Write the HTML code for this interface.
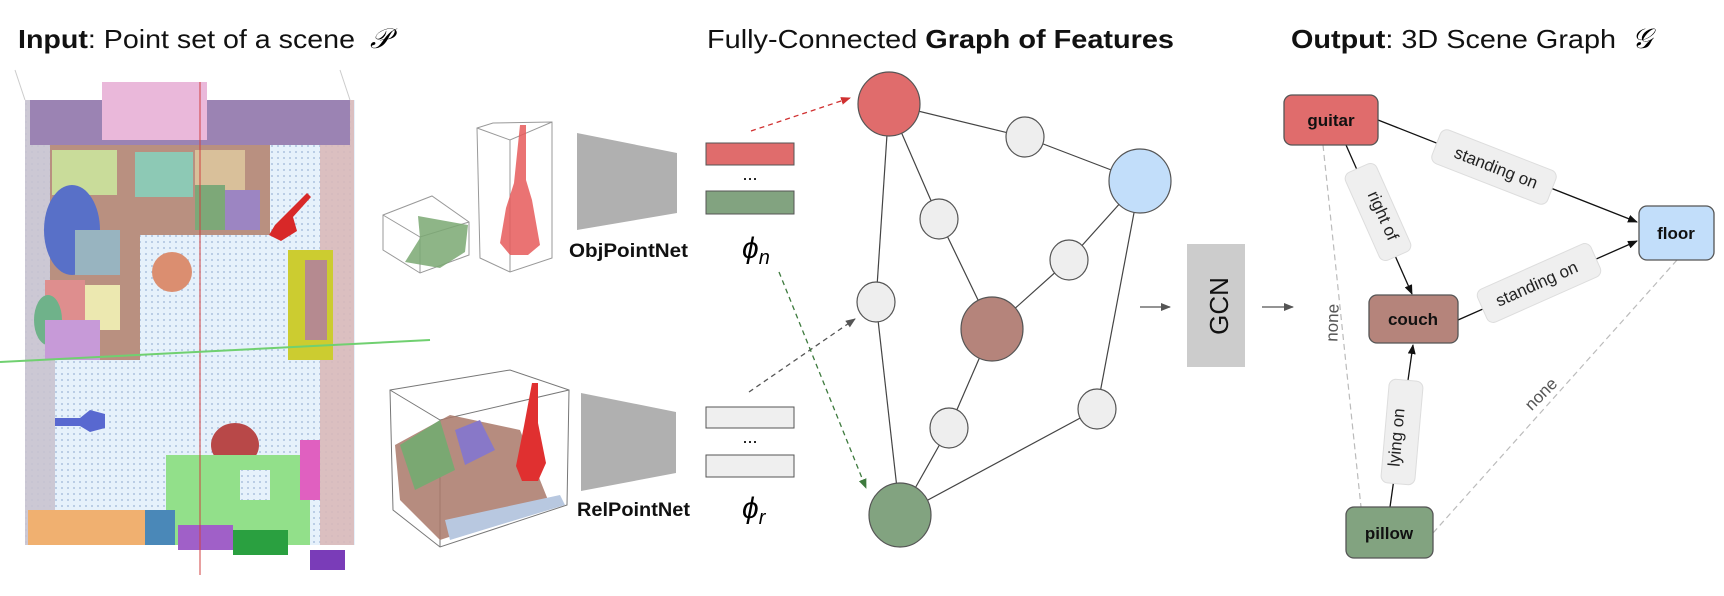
<!DOCTYPE html>
<html><head><meta charset="utf-8"><style>
html,body{margin:0;padding:0;background:#fff}
svg{display:block}
text{font-family:"Liberation Sans",sans-serif}
</style></head><body>
<svg width="1724" height="596" viewBox="0 0 1724 596" xmlns="http://www.w3.org/2000/svg">
<defs>
<marker id="ab" markerWidth="10" markerHeight="8" refX="9" refY="4" orient="auto" markerUnits="userSpaceOnUse"><path d="M0,0 L10,4 L0,8 z" fill="#111"/></marker>
<marker id="ag" markerWidth="10" markerHeight="8" refX="9" refY="4" orient="auto" markerUnits="userSpaceOnUse"><path d="M0,0 L10,4 L0,8 z" fill="#555"/></marker>
<marker id="ar" markerWidth="10" markerHeight="8" refX="9" refY="4" orient="auto" markerUnits="userSpaceOnUse"><path d="M0,0 L10,4 L0,8 z" fill="#d03030"/></marker>
<marker id="agr" markerWidth="10" markerHeight="8" refX="9" refY="4" orient="auto" markerUnits="userSpaceOnUse"><path d="M0,0 L10,4 L0,8 z" fill="#3d7a3d"/></marker>
<pattern id="dots" width="6" height="6" patternUnits="userSpaceOnUse"><rect width="6" height="6" fill="#e6f1fb"/><circle cx="2" cy="2" r="0.9" fill="#9bb4d6"/></pattern>
</defs>

<!-- titles -->
<text x="18" y="48" font-size="26" fill="#111" textLength="337" lengthAdjust="spacingAndGlyphs"><tspan font-weight="bold">Input</tspan>: Point set of a scene</text>
<text x="370" y="48" font-size="28" font-style="italic" font-family="Liberation Serif,serif">𝒫</text>
<text x="707" y="48" font-size="26" fill="#111" textLength="467" lengthAdjust="spacingAndGlyphs">Fully-Connected <tspan font-weight="bold">Graph of Features</tspan></text>
<text x="1291" y="48" font-size="26" fill="#111" textLength="325" lengthAdjust="spacingAndGlyphs"><tspan font-weight="bold">Output</tspan>: 3D Scene Graph</text>
<text x="1632" y="48" font-size="28" font-style="italic" font-family="Liberation Serif,serif">𝒢</text>

<!-- room point cloud -->
<g>
<rect x="25" y="100" width="330" height="445" fill="url(#dots)"/>
<rect x="25" y="100" width="30" height="445" fill="#c9c3cf" opacity="0.9"/>
<rect x="320" y="100" width="34" height="445" fill="#d9b9b9" opacity="0.9"/>
<rect x="30" y="100" width="320" height="45" fill="#9b83b3"/>
<rect x="102" y="82" width="105" height="58" fill="#eab8da"/>
<rect x="50" y="145" width="220" height="90" fill="#b99080"/>
<rect x="50" y="145" width="90" height="215" fill="#b99080"/>
<rect x="52" y="150" width="65" height="45" fill="#c9dc9a"/>
<rect x="135" y="152" width="58" height="45" fill="#8dc9b5"/>
<rect x="195" y="150" width="50" height="40" fill="#d9c09a"/>
<rect x="195" y="185" width="30" height="45" fill="#7da878"/>
<rect x="225" y="190" width="35" height="40" fill="#9c85c2"/>
<ellipse cx="72" cy="230" rx="28" ry="45" fill="#5870c8"/>
<rect x="75" y="230" width="45" height="45" fill="#98b4c0"/>
<rect x="45" y="280" width="40" height="45" fill="#de8e8e"/>
<rect x="85" y="285" width="35" height="45" fill="#ece8b0"/>
<ellipse cx="48" cy="320" rx="14" ry="25" fill="#6fb28a"/>
<rect x="45" y="320" width="55" height="40" fill="#c79ad8"/>
<circle cx="172" cy="272" r="20" fill="#db8e70"/>
<rect x="288" y="250" width="45" height="110" fill="#cccc30"/>
<rect x="305" y="260" width="22" height="80" fill="#b58a90"/>
<path d="M275 225 l12 -12 l20 -20 l4 4 l-18 20 l4 14 l-16 10 l-12 -6z" fill="#d82828"/>
<path d="M55 418 h25 l10 -8 l15 4 l0 14 l-15 4 l-10 -6 h-25z" fill="#5868d0"/>
<ellipse cx="235" cy="445" rx="24" ry="22" fill="#b84848"/>
<rect x="166" y="455" width="144" height="90" fill="#92e08a"/>
<rect x="240" y="470" width="30" height="30" fill="url(#dots)"/>
<rect x="300" y="440" width="20" height="60" fill="#e060c0"/>
<rect x="28" y="510" width="117" height="35" fill="#f0b070"/>
<rect x="145" y="510" width="30" height="35" fill="#4a88b8"/>
<rect x="178" y="525" width="55" height="25" fill="#a060c8"/>
<rect x="233" y="530" width="55" height="25" fill="#2aa040"/>
<rect x="310" y="550" width="35" height="20" fill="#7a3cb8"/>
<line x1="200" y1="82" x2="200" y2="575" stroke="#d04040" stroke-width="1"/>
<line x1="0" y1="362" x2="430" y2="340" stroke="#70d070" stroke-width="2"/>
<path d="M25 100 L15 70 M350 100 L340 70" stroke="#ccc" fill="none"/>
</g>

<!-- object boxes -->
<g fill="none" stroke="#999" stroke-width="1">
<path d="M383 215 L432 196 L469 222 L469 255 L420 273 L383 250 Z M383 215 L420 237 L469 222 M420 237 L420 273"/>
<path d="M493 123 L552 122 L552 258 L510 272 L480 258 L477 128 Z M477 128 L510 140 L552 122 M510 140 L510 272"/>
</g>
<path d="M418 216 L468 225 L465 252 L440 268 L405 262 L420 238 Z" fill="#7aa872" opacity="0.85"/>
<path d="M520 125 l6 0 l0 55 l6 20 l8 45 l-12 10 l-18 0 l-10 -12 l6 -35 l8 -25 z" fill="#e65a5a" opacity="0.85"/>
<g fill="none" stroke="#777" stroke-width="1">
<path d="M390 390 L510 370 L569 390 L567 505 L440 547 L393 510 Z M390 390 L440 420 L569 390 M440 420 L440 547"/>
</g>
<path d="M395 445 L450 415 L520 430 L548 500 L500 520 L440 540 L400 500 Z" fill="#a97868" opacity="0.85"/>
<path d="M400 445 L440 420 L455 470 L415 490 Z" fill="#7aa872"/>
<path d="M455 430 L480 420 L495 450 L465 465 Z" fill="#8878c8"/>
<path d="M445 520 L560 495 L565 505 L450 540 Z" fill="#b8c8e0"/>
<path d="M532 383 l6 0 l0 40 l8 40 l-8 18 l-16 0 l-6 -15 l8 -40 z" fill="#e03030"/>

<!-- PointNets -->
<polygon points="577,133 677,153 677,213 577,230" fill="#b0b0b0"/>
<polygon points="581,393 676,412 676,473 581,491" fill="#b0b0b0"/>
<text x="569" y="257" font-size="19" font-weight="bold" fill="#111" textLength="119" lengthAdjust="spacingAndGlyphs">ObjPointNet</text>
<text x="577" y="516" font-size="19" font-weight="bold" fill="#111" textLength="113" lengthAdjust="spacingAndGlyphs">RelPointNet</text>

<rect x="706" y="143" width="88" height="22" fill="#e06c6c" stroke="#555" stroke-width="1"/>
<text x="750" y="180" font-size="18" text-anchor="middle">...</text>
<rect x="706" y="191" width="88" height="23" fill="#82a380" stroke="#555" stroke-width="1"/>
<rect x="706" y="407" width="88" height="21" fill="#efefef" stroke="#555" stroke-width="1"/>
<text x="750" y="443" font-size="18" text-anchor="middle">...</text>
<rect x="706" y="455" width="88" height="22" fill="#efefef" stroke="#555" stroke-width="1"/>
<text x="742" y="258" font-size="30" font-style="italic" font-family="Liberation Serif,serif">ϕ<tspan font-size="20" dy="6">n</tspan></text>
<text x="742" y="518" font-size="30" font-style="italic" font-family="Liberation Serif,serif">ϕ<tspan font-size="20" dy="6">r</tspan></text>

<!-- dashed arrows -->
<line x1="751" y1="131" x2="850" y2="98" stroke="#d03030" stroke-width="1.3" stroke-dasharray="5,4" marker-end="url(#ar)"/>
<line x1="749" y1="392" x2="855" y2="319" stroke="#555" stroke-width="1.3" stroke-dasharray="5,4" marker-end="url(#ag)"/>
<line x1="779" y1="272" x2="866" y2="488" stroke="#3d7a3d" stroke-width="1.3" stroke-dasharray="5,4" marker-end="url(#agr)"/>

<!-- graph edges -->
<g stroke="#444" stroke-width="1.2">
<line x1="889" y1="104" x2="1025" y2="137"/><line x1="1025" y1="137" x2="1140" y2="181"/>
<line x1="889" y1="104" x2="939" y2="219"/><line x1="939" y1="219" x2="992" y2="329"/>
<line x1="889" y1="104" x2="876" y2="302"/><line x1="876" y1="302" x2="900" y2="515"/>
<line x1="1140" y1="181" x2="1069" y2="260"/><line x1="1069" y1="260" x2="992" y2="329"/>
<line x1="1140" y1="181" x2="1097" y2="409"/><line x1="1097" y1="409" x2="900" y2="515"/>
<line x1="992" y1="329" x2="949" y2="428"/><line x1="949" y1="428" x2="900" y2="515"/>
</g>
<g stroke="#555" stroke-width="1.2">
<ellipse cx="889" cy="104" rx="31" ry="32" fill="#e06c6c"/>
<ellipse cx="1140" cy="181" rx="31" ry="32" fill="#c2defa"/>
<ellipse cx="992" cy="329" rx="31" ry="32" fill="#b5847b"/>
<ellipse cx="900" cy="515" rx="31" ry="32" fill="#82a380"/>
<ellipse cx="1025" cy="137" rx="19" ry="20" fill="#eeeeee"/>
<ellipse cx="939" cy="219" rx="19" ry="20" fill="#eeeeee"/>
<ellipse cx="1069" cy="260" rx="19" ry="20" fill="#eeeeee"/>
<ellipse cx="876" cy="302" rx="19" ry="20" fill="#eeeeee"/>
<ellipse cx="949" cy="428" rx="19" ry="20" fill="#eeeeee"/>
<ellipse cx="1097" cy="409" rx="19" ry="20" fill="#eeeeee"/>
</g>

<!-- GCN -->
<line x1="1140" y1="307" x2="1170" y2="307" stroke="#555" stroke-width="1.3" marker-end="url(#ag)"/>
<rect x="1187" y="244" width="58" height="123" fill="#cccccc"/>
<text transform="translate(1228,306) rotate(-90)" font-size="26" text-anchor="middle" fill="#111">GCN</text>
<line x1="1262" y1="307" x2="1293" y2="307" stroke="#555" stroke-width="1.3" marker-end="url(#ag)"/>

<!-- scene graph edges -->
<g stroke="#bbb" stroke-width="1.2" stroke-dasharray="6,4" fill="none">
<line x1="1323" y1="145" x2="1361" y2="507"/>
<line x1="1677" y1="260" x2="1433" y2="533"/>
</g>
<g stroke="#111" stroke-width="1.3">
<line x1="1378" y1="120" x2="1637" y2="222" marker-end="url(#ab)"/>
<line x1="1346" y1="145" x2="1412" y2="294" marker-end="url(#ab)"/>
<line x1="1458" y1="320" x2="1637" y2="241" marker-end="url(#ab)"/>
<line x1="1390" y1="507" x2="1413" y2="345" marker-end="url(#ab)"/>
</g>
<!-- edge labels -->
<g fill="#efefef" stroke="#ddd" stroke-width="1">
<rect x="-62" y="-18" width="124" height="36" rx="7" transform="translate(1494,167) rotate(21.3)"/>
<rect x="-48" y="-17" width="96" height="34" rx="7" transform="translate(1378,212) rotate(66)"/>
<rect x="-62" y="-18" width="124" height="36" rx="7" transform="translate(1539,283) rotate(-24)"/>
<rect x="-52" y="-17" width="104" height="34" rx="7" transform="translate(1402,432) rotate(-85)"/>
</g>
<g font-size="17" fill="#222" text-anchor="middle">
<text transform="translate(1494,173) rotate(21.3)">standing on</text>
<text transform="translate(1378,218) rotate(66)">right of</text>
<text transform="translate(1539,289) rotate(-24)">standing on</text>
<text transform="translate(1402,438) rotate(-85)">lying on</text>
<text transform="translate(1338,323) rotate(-88)" fill="#555">none</text>
<text transform="translate(1545,398) rotate(-45)" fill="#555">none</text>
</g>
<!-- scene graph nodes -->
<g stroke="#555" stroke-width="1.3">
<rect x="1284" y="95" width="94" height="50" rx="8" fill="#e06c6c"/>
<rect x="1639" y="206" width="75" height="54" rx="8" fill="#c2defa"/>
<rect x="1369" y="295" width="89" height="48" rx="8" fill="#b5847b"/>
<rect x="1346" y="507" width="87" height="51" rx="8" fill="#82a380"/>
</g>
<g font-size="17" font-weight="bold" fill="#111" text-anchor="middle">
<text x="1331" y="126">guitar</text>
<text x="1676" y="239">floor</text>
<text x="1413" y="325">couch</text>
<text x="1389" y="539">pillow</text>
</g>
</svg>
</body></html>
